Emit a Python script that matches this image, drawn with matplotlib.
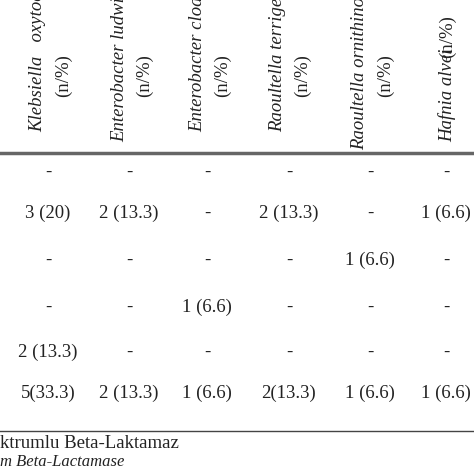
import matplotlib
matplotlib.use("Agg")
import matplotlib.pyplot as plt

species = ["Klebsiella   oxytoca", "Enterobacter ludwigii", "Enterobacter cloacae",
           "Raoultella terrigena", "Raoultella ornithinolytica", "Hafnia alvei"]
col_k = ["-", "3 (20)", "-", "-", "2 (13.3)", "5(33.3)"]
col_el = ["-", "2 (13.3)", "-", "-", "-", "2 (13.3)"]
col_ec = ["-", "-", "-", "1 (6.6)", "-", "1 (6.6)"]
col_rt = ["-", "2 (13.3)", "-", "-", "-", "2(13.3)"]
col_ro = ["-", "-", "1 (6.6)", "-", "-", "1 (6.6)"]
col_ha = ["-", "1 (6.6)", "-", "-", "-", "1 (6.6)"]
columns = [col_k, col_el, col_ec, col_rt, col_ro, col_ha]
footnotes = ["ktrumlu Beta-Laktamaz", "m Beta-Lactamase"]

W = 474
fig = plt.figure(figsize=(4.74, 4.74), dpi=100)
ax = fig.add_axes([0, 0, 1, 1])
ax.set_xlim(0, W); ax.set_ylim(W, 0); ax.axis("off")
font = "Liberation Serif"
c = "#222222"

xs = [48, 129, 207, 289, 370, 446]
ys = [172, 213, 260, 307, 352, 393]
name_x = [38, 120, 198, 278, 360, 447]
unit_x = [63, 144, 222, 302, 385]
name_y = [132, 142, 132, 132, 150]
for i, name in enumerate(species):
    if i < 5:
        t = ax.text(name_x[i], name_y[i], name, rotation=90, ha="center", va="bottom",
                    fontsize=13.5, family=font, style="italic", color=c)
        ax.text(unit_x[i], 97, "(n/%)", rotation=90, ha="center", va="bottom",
                fontsize=13.5, family=font, color=c)
    else:
        ax.text(name_x[i], 142, name, rotation=90, ha="center", va="bottom",
                fontsize=13.5, family=font, style="italic", color=c)
        ax.text(name_x[i], 58, "(n/%)", rotation=90, ha="center", va="bottom",
                fontsize=13.5, family=font, color=c)
for x, col in zip(xs, columns):
    for y, v in zip(ys, col):
        ax.text(x, y, v, ha="center", va="center", fontsize=13.5, family=font, color=c)

ax.plot([0, W], [153, 153], color="#666666", lw=2.5)
ax.plot([0, W], [431, 431], color="#444444", lw=1)
ax.text(0, 444, footnotes[0], ha="left", va="center", fontsize=13.5, family=font, color=c)
ax.text(0, 462, footnotes[1], ha="left", va="center", fontsize=12, family=font, style="italic", color=c)
fig.savefig("out.png", dpi=100)
